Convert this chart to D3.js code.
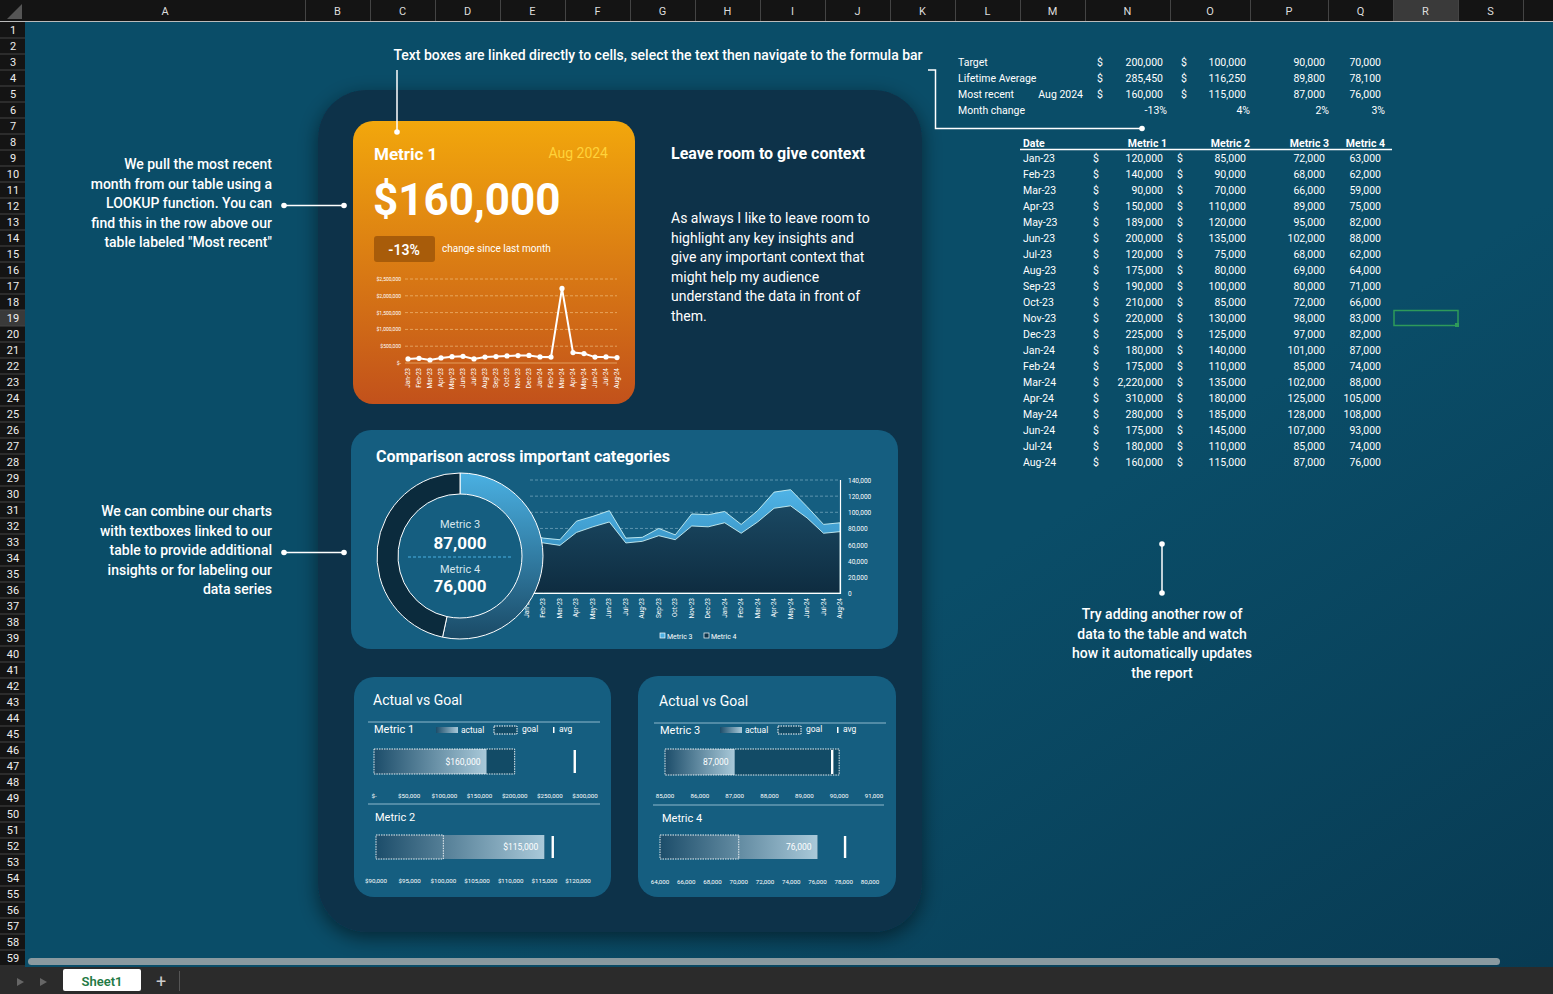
<!DOCTYPE html>
<html><head><meta charset="utf-8">
<script src="https://cdn.jsdelivr.net/npm/d3@7"></script>
<style>body{margin:0;background:#0b4f6a;overflow:hidden}svg{display:block;font-family:Roboto,"Open Sans",sans-serif}</style>
</head><body><svg id="c" width="1553" height="994"></svg>
<script>
const months=["Jan-23","Feb-23","Mar-23","Apr-23","May-23","Jun-23","Jul-23","Aug-23","Sep-23","Oct-23","Nov-23","Dec-23","Jan-24","Feb-24","Mar-24","Apr-24","May-24","Jun-24","Jul-24","Aug-24"];
const metric1=[120000,140000,90000,150000,189000,200000,120000,175000,190000,210000,220000,225000,180000,175000,2220000,310000,280000,175000,180000,160000];
const metric2=[85000,90000,70000,110000,120000,135000,75000,80000,100000,85000,130000,125000,140000,110000,135000,180000,185000,145000,110000,115000];
const metric3=[72000,68000,66000,89000,95000,102000,68000,69000,80000,72000,98000,97000,101000,85000,102000,125000,128000,107000,85000,87000];
const metric4=[63000,62000,59000,75000,82000,88000,62000,64000,71000,66000,83000,82000,87000,74000,88000,105000,108000,93000,74000,76000];
const targets=[200000,100000,90000,70000];
const lifetimeAvg=[285450,116250,89800,78100];
const mostRecent=[160000,115000,87000,76000];
const monthChange=["-13%","4%","2%","3%"];
const colLetters=["A","B","C","D","E","F","G","H","I","J","K","L","M","N","O","P","Q","R","S"];
const colEdges=[25,305,370,435,500,565,630,695,760,825,890,955,1020,1085,1170,1250,1328,1393,1458,1523];

const svg=d3.select("#c");
const defs=svg.append("defs");
function lg(id,stops,x2=0,y2=1){const g=defs.append("linearGradient").attr("id",id).attr("x1",0).attr("y1",0).attr("x2",x2).attr("y2",y2);stops.forEach(s=>g.append("stop").attr("offset",s[0]).attr("stop-color",s[1]).attr("stop-opacity",s[2]??1));}
lg("orange",[[0,"#f2a70c"],[1,"#c2511b"]]);
lg("bgG",[[0,"#0a4d68"],[0.6,"#0a4d68"],[1,"#083a52"]],1,1);
lg("m3g",[[0,"#4fb3e6"],[1,"#2a7fae"]]);
lg("m4g",[[0,"#1a4862"],[1,"#0e2c40"]]);
lg("barG",[[0,"#1c4d6a"],[1,"#a9c9d9"]],1,0);
lg("donG",[[0,"#4ab0e2"],[1,"#1a4a66"]]);
const sh=defs.append("filter").attr("id","sh").attr("x","-20%").attr("y","-20%").attr("width","140%").attr("height","140%");
sh.append("feDropShadow").attr("dx",0).attr("dy",6).attr("stdDeviation",10).attr("flood-color","#000").attr("flood-opacity",0.5);

svg.append("rect").attr("width",1553).attr("height",994).attr("fill","url(#bgG)");
svg.append("rect").attr("width",1553).attr("height",22).attr("fill","#141414");
svg.append("rect").attr("width",25).attr("height",994).attr("fill","#141414");
svg.append("line").attr("x1",0).attr("x2",1553).attr("y1",21.5).attr("y2",21.5).attr("stroke","#bbb");
svg.append("path").attr("d","M22 4 L22 19 L7 19 Z").attr("fill","#555");
svg.append("rect").attr("x",1393).attr("y",0).attr("width",65).attr("height",21).attr("fill","#3a3a3a");
colLetters.forEach((c,i)=>{
  svg.append("line").attr("x1",colEdges[i+1]+.5).attr("x2",colEdges[i+1]+.5).attr("y1",0).attr("y2",21).attr("stroke","#444");
  svg.append("text").attr("x",(colEdges[i]+colEdges[i+1])/2).attr("y",15).attr("text-anchor","middle").attr("fill","#ddd").attr("font-size",11).text(c);
});
const rows=d3.range(1,60);
const rowY=n=>22+(n-1)*16;
svg.append("rect").attr("x",0).attr("y",rowY(19)).attr("width",25).attr("height",16).attr("fill","#3a3a3a");
rows.forEach(n=>{
  svg.append("line").attr("x1",0).attr("x2",25).attr("y1",rowY(n)+16).attr("y2",rowY(n)+16).attr("stroke","#444");
  svg.append("text").attr("x",13).attr("y",rowY(n)+12).attr("text-anchor","middle").attr("fill","#eee").attr("font-size",11).text(n);
});
svg.append("rect").attr("x",1394).attr("y",rowY(19)+.5).attr("width",64).attr("height",15).attr("fill","none").attr("stroke","#2e9a5a").attr("stroke-width",1.5);
svg.append("rect").attr("x",1455).attr("y",rowY(19)+13).attr("width",4).attr("height",4).attr("fill","#2e9a5a");

svg.append("rect").attr("x",28).attr("y",958).attr("width",1472).attr("height",7).attr("rx",3.5).attr("fill","#8a9aa0");
svg.append("rect").attr("x",0).attr("y",967).attr("width",1553).attr("height",27).attr("fill","#2b2b2b");
svg.append("path").attr("d","M24 982 L17 978 L17 986 Z M40 978 L47 982 L40 986 Z").attr("fill","#666");
svg.append("rect").attr("x",63).attr("y",969).attr("width",78).attr("height",22).attr("fill","#fff").attr("rx",2);
svg.append("text").attr("x",102).attr("y",986).attr("text-anchor","middle").attr("fill","#1f7a45").attr("font-size",13).attr("font-weight",600).text("Sheet1");
svg.append("text").attr("x",161).attr("y",988).attr("text-anchor","middle").attr("fill","#ccc").attr("font-size",18).text("+");
svg.append("line").attr("x1",179.5).attr("x2",179.5).attr("y1",971).attr("y2",991).attr("stroke","#555");

svg.append("rect").attr("x",318).attr("y",90).attr("width",604).attr("height",842).attr("rx",48).attr("fill","#0d334a").attr("filter","url(#sh)");

const W="#ffffff";
function txt(x,y,s,o={}){return svg.append("text").attr("x",x).attr("y",y).attr("fill",o.fill||W).attr("font-size",o.size||12).attr("font-weight",o.weight||400).attr("text-anchor",o.anchor||"start").text(s);}

svg.append("rect").attr("x",353).attr("y",121).attr("width",282).attr("height",283).attr("rx",20).attr("fill","url(#orange)");
txt(374,160,"Metric 1",{size:17,weight:700});
txt(608,158,"Aug 2024",{size:14,fill:"#ffd23a",anchor:"end"});
txt(373,215,"$160,000",{size:44,weight:700});
svg.append("rect").attr("x",374).attr("y",236).attr("width",61).attr("height",26).attr("rx",3).attr("fill","#a85c0a");
txt(404,255,"-13%",{size:14,weight:600,anchor:"middle"});
txt(442,252,"change since last month",{size:10});
const xo=d3.scalePoint().domain(months).range([408,617]);
const yo=d3.scaleLinear().domain([0,2500000]).range([363,279]);
const go=svg.append("g");
yo.ticks(5).forEach(t=>{
  go.append("line").attr("x1",405).attr("x2",617).attr("y1",yo(t)).attr("y2",yo(t)).attr("stroke","#f5c98a").attr("stroke-dasharray",t?"3,2":null).attr("stroke-width",.6);
  go.append("text").attr("x",401).attr("y",yo(t)+2).attr("text-anchor","end").attr("fill",W).attr("font-size",5).text(t?d3.format("$,")(t):"$-");
});
months.forEach(m=>go.append("text").attr("transform",`translate(${xo(m)+2},368) rotate(-90)`).attr("text-anchor","end").attr("fill",W).attr("font-size",6.5).text(m));
go.append("path").attr("d",d3.line().x((d,i)=>xo(months[i])).y(d=>yo(d))(metric1)).attr("fill","none").attr("stroke",W).attr("stroke-width",2);
go.selectAll("circle").data(metric1).join("circle").attr("cx",(d,i)=>xo(months[i])).attr("cy",d=>yo(d)).attr("r",2.6).attr("fill",W);

txt(671,159,"Leave room to give context",{size:16,weight:700});
["As always I like to leave room to","highlight any key insights and","give any important context that","might help my audience","understand the data in front of","them."].forEach((l,i)=>txt(671,223+i*19.6,l,{size:14}));

svg.append("rect").attr("x",351).attr("y",430).attr("width",547).attr("height",219).attr("rx",20).attr("fill","#155e80");
txt(376,462,"Comparison across important categories",{size:16,weight:700});
const xa=d3.scalePoint().domain(months).range([527,840]);
const ya=d3.scaleLinear().domain([0,140000]).range([593,480]);
const ga=svg.append("g");
ya.ticks(7).forEach(t=>{
  if(t) ga.append("line").attr("x1",530).attr("x2",840).attr("y1",ya(t)).attr("y2",ya(t)).attr("stroke","#8fb8cc").attr("stroke-dasharray","3,2").attr("stroke-width",.6);
  ga.append("text").attr("x",848).attr("y",ya(t)+3).attr("fill",W).attr("font-size",6.5).text(d3.format(",")(t));
});
const area=d3.area().x((d,i)=>xa(months[i])).y0(ya(0)).y1(d=>ya(d));
ga.append("path").attr("d",area(metric3)).attr("fill","url(#m3g)").attr("stroke","#dff").attr("stroke-width",.8);
ga.append("path").attr("d",area(metric4)).attr("fill","url(#m4g)").attr("stroke","#dff").attr("stroke-width",.8);
ga.append("line").attr("x1",527).attr("x2",841).attr("y1",593.5).attr("y2",593.5).attr("stroke",W).attr("stroke-width",1.2);
ga.append("line").attr("x1",840.5).attr("x2",840.5).attr("y1",480).attr("y2",594).attr("stroke",W).attr("stroke-width",1.2);
months.forEach(m=>ga.append("text").attr("transform",`translate(${xa(m)+2},598) rotate(-90)`).attr("text-anchor","end").attr("fill",W).attr("font-size",6.5).text(m));
ga.append("rect").attr("x",660).attr("y",633).attr("width",5).attr("height",5).attr("fill","#4ab0e2").attr("stroke",W).attr("stroke-width",.7);
ga.append("text").attr("x",667).attr("y",638.5).attr("fill",W).attr("font-size",7).text("Metric 3");
ga.append("rect").attr("x",704).attr("y",633).attr("width",5).attr("height",5).attr("fill","#0d334a").attr("stroke",W).attr("stroke-width",.7);
ga.append("text").attr("x",711).attr("y",638.5).attr("fill",W).attr("font-size",7).text("Metric 4");
const dcx=460,dcy=556;
const pie=d3.pie().sort(null)([mostRecent[2],mostRecent[3]]);
const arc=d3.arc().innerRadius(62).outerRadius(83);
const gd=svg.append("g").attr("transform",`translate(${dcx},${dcy})`);
gd.append("circle").attr("r",62).attr("fill","#155e80");
gd.selectAll("path").data(pie).join("path").attr("d",arc).attr("fill",(d,i)=>i?"#0b2b3d":"url(#donG)").attr("stroke",W).attr("stroke-width",1);
gd.append("text").attr("y",-28).attr("text-anchor","middle").attr("fill","#d5e6ee").attr("font-size",11).text("Metric 3");
gd.append("text").attr("y",-7).attr("text-anchor","middle").attr("fill",W).attr("font-size",17).attr("font-weight",700).text(d3.format(",")(mostRecent[2]));
gd.append("line").attr("x1",-52).attr("x2",52).attr("y1",1).attr("y2",1).attr("stroke","#4ab0e2").attr("stroke-dasharray","3,2");
gd.append("text").attr("y",17).attr("text-anchor","middle").attr("fill","#d5e6ee").attr("font-size",11).text("Metric 4");
gd.append("text").attr("y",36).attr("text-anchor","middle").attr("fill",W).attr("font-size",17).attr("font-weight",700).text(d3.format(",")(mostRecent[3]));

function card(x,y,w,h){svg.append("rect").attr("x",x).attr("y",y).attr("width",w).attr("height",h).attr("rx",20).attr("fill","#155e80");}
card(354,677,257,220);card(638,676,258,221);
function bulletHeader(x,y){
  txt(x,y,"Actual vs Goal",{size:14});
  svg.append("line").attr("x1",x-5).attr("x2",x+227).attr("y1",y+17).attr("y2",y+17).attr("stroke","#8fb8cc");
}
bulletHeader(373,705);bulletHeader(659,706);
function legend(x,y){
  svg.append("rect").attr("x",x).attr("y",y-6).attr("width",22).attr("height",6).attr("fill","url(#barG)");
  txt(x+25,y,"actual",{size:8.5});
  svg.append("rect").attr("x",x+58).attr("y",y-7).attr("width",23).attr("height",8).attr("fill","#124b66").attr("stroke",W).attr("stroke-dasharray","1.5,1");
  txt(x+86,y-1,"goal",{size:8.5});
  svg.append("rect").attr("x",x+117).attr("y",y-6).attr("width",1.5).attr("height",6).attr("fill",W);
  txt(x+123,y-1,"avg",{size:8.5});
}
legend(436,733);legend(720,733);
function bullet(o){
  const x=d3.scaleLinear().domain(o.domain).range(o.range);
  txt(o.lx,o.ly,o.name,{size:11});
  const x0=o.range[0];
  svg.append("rect").attr("x",x0).attr("y",o.y).attr("width",Math.max(x(o.goal),x(o.actual))-x0).attr("height",o.h).attr("fill","#124b66");
  svg.append("rect").attr("x",x0).attr("y",o.y).attr("width",x(o.actual)-x0).attr("height",o.h).attr("fill","url(#barG)");
  svg.append("rect").attr("x",x0).attr("y",o.y).attr("width",x(o.goal)-x0).attr("height",o.h).attr("fill","none").attr("stroke",W).attr("stroke-dasharray","1.5,1").attr("stroke-width",.9);
  svg.append("rect").attr("x",x(o.avg)-1.2).attr("y",o.y+1).attr("width",2.4).attr("height",o.h-2).attr("fill",W);
  txt(x(o.actual)-6,o.y+o.h/2+3,o.label,{size:8.5,anchor:"end"});
  o.ticks.forEach(t=>svg.append("text").attr("x",x(t)).attr("y",o.ty).attr("text-anchor","middle").attr("fill",W).attr("font-size",6.2).text(o.fmt(t)));
}
const dol=t=>t?d3.format("$,")(t):"$-";
const num=d3.format(",");
bullet({name:"Metric 1",lx:374,ly:733,domain:[0,300000],range:[374,585],y:749,h:25,actual:mostRecent[0],goal:targets[0],avg:lifetimeAvg[0],label:dol(mostRecent[0]),ticks:d3.range(0,300001,50000),ty:798,fmt:dol});
svg.append("line").attr("x1",368).attr("x2",600).attr("y1",804).attr("y2",804).attr("stroke","#8fb8cc");
bullet({name:"Metric 2",lx:375,ly:821,domain:[90000,120000],range:[376,578],y:835,h:24,actual:mostRecent[1],goal:targets[1],avg:lifetimeAvg[1],label:dol(mostRecent[1]),ticks:d3.range(90000,120001,5000),ty:883,fmt:dol});
bullet({name:"Metric 3",lx:660,ly:734,domain:[85000,91000],range:[665,874],y:749,h:26,actual:mostRecent[2],goal:targets[2],avg:lifetimeAvg[2],label:num(mostRecent[2]),ticks:d3.range(85000,91001,1000),ty:798,fmt:num});
svg.append("line").attr("x1",653).attr("x2",884).attr("y1",805).attr("y2",805).attr("stroke","#8fb8cc");
bullet({name:"Metric 4",lx:662,ly:822,domain:[64000,80000],range:[660,870],y:835,h:24,actual:mostRecent[3],goal:targets[3],avg:lifetimeAvg[3],label:num(mostRecent[3]),ticks:d3.range(64000,80001,2000),ty:884,fmt:num});

txt(658,60,"Text boxes are linked directly to cells, select the text then navigate to the formula bar",{size:14,weight:500,anchor:"middle"});
const ann=svg.append("g").attr("stroke",W).attr("stroke-width",1.5).attr("fill","none");
ann.append("path").attr("d","M397 70 V132");
ann.append("path").attr("d","M928 70 H935.5 V128.5 H1142");
ann.append("path").attr("d","M284 205.5 H344");
ann.append("path").attr("d","M284 552.5 H344");
ann.append("path").attr("d","M1162 544 V593");
[[397,132],[1142,128.5],[284,205.5],[344,205.5],[284,552.5],[344,552.5],[1162,544],[1162,593]].forEach(p=>svg.append("circle").attr("cx",p[0]).attr("cy",p[1]).attr("r",2.8).attr("fill",W));
["We pull the most recent","month from our table using a","LOOKUP function. You can","find this in the row above our","table labeled \"Most recent\""].forEach((l,i)=>txt(272,169+i*19.5,l,{size:14,weight:500,anchor:"end"}));
["We can combine our charts","with textboxes linked to our","table to provide additional","insights or for labeling our","data series"].forEach((l,i)=>txt(272,516+i*19.5,l,{size:14,weight:500,anchor:"end"}));
["Try adding another row of","data to the table and watch","how it automatically updates","the report"].forEach((l,i)=>txt(1162,619+i*19.6,l,{size:14,weight:500,anchor:"middle"}));

const rY=n=>rowY(n)+12;
const sumRows=[["Target",targets],["Lifetime Average",lifetimeAvg],["Most recent",mostRecent]];
const colR=[1163,1246,1325,1381];
sumRows.forEach((r,i)=>{
  txt(958,rY(3+i),r[0],{size:10.5});
  txt(1100,rY(3+i),"$",{size:10.5,anchor:"middle"});txt(1184,rY(3+i),"$",{size:10.5,anchor:"middle"});
  r[1].forEach((v,j)=>txt(colR[j],rY(3+i),num(v),{size:10.5,anchor:"end"}));
});
txt(1083,rY(5),"Aug 2024",{size:10.5,anchor:"end"});
txt(958,rY(6),"Month change",{size:10.5});
monthChange.forEach((v,j)=>txt(colR[j]+4,rY(6),v,{size:10.5,anchor:"end"}));
txt(1023,rY(8)+1,"Date",{size:10.5,weight:700});
["Metric 1","Metric 2","Metric 3","Metric 4"].forEach((h,j)=>txt(colR[j]+4,rY(8)+1,h,{size:10.5,weight:700,anchor:"end"}));
svg.append("line").attr("x1",1020).attr("x2",1392).attr("y1",rowY(8)+15.5).attr("y2",rowY(8)+15.5).attr("stroke",W).attr("stroke-width",1.5);
months.forEach((m,i)=>{
  const y=rY(9+i);
  txt(1023,y,m,{size:10.5});
  txt(1096,y,"$",{size:10.5,anchor:"middle"});txt(1180,y,"$",{size:10.5,anchor:"middle"});
  [metric1[i],metric2[i],metric3[i],metric4[i]].forEach((v,j)=>txt(colR[j],y,num(v),{size:10.5,anchor:"end"}));
});
</script></body></html>
